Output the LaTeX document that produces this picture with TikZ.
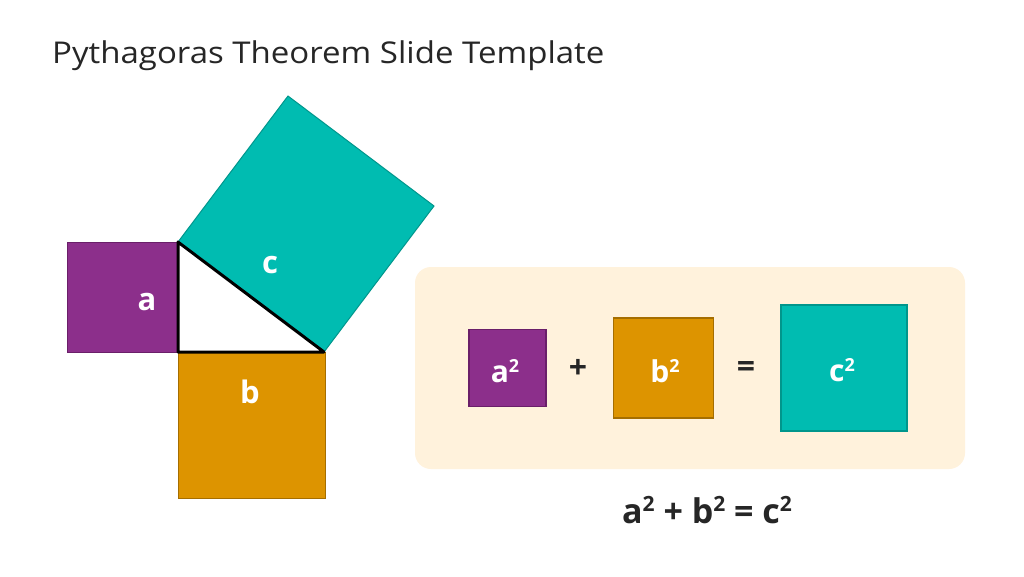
\documentclass[tikz,border=0pt]{standalone}
\usepackage{fontspec}
\setmainfont{Open Sans}
\definecolor{purp}{HTML}{8C2F8B}
\definecolor{purpd}{HTML}{6A1F69}
\definecolor{orng}{HTML}{DD9400}
\definecolor{orngd}{HTML}{A56E00}
\definecolor{teal2}{HTML}{00BCB1}
\definecolor{teald}{HTML}{00968C}
\definecolor{cream}{HTML}{FFF2DC}
\definecolor{titlec}{HTML}{262626}
\newcommand{\sqr}{\raisebox{0.6ex}{\fontsize{18}{18}\selectfont\bfseries 2}}
\newcommand{\sqrb}{\raisebox{0.6ex}{\fontsize{21}{21}\selectfont\bfseries 2}}
\begin{document}
\begin{tikzpicture}[x=1pt,y=-1pt,
  sq/.style={draw,line width=1.2pt,inner sep=0pt},
  sqtxt/.style={anchor=base,inner sep=0pt,text=white,font=\fontsize{30}{32}\selectfont\bfseries},
  lbl/.style={anchor=base,text=white,font=\fontsize{31}{34}\selectfont\bfseries,inner sep=0pt},
  op/.style={text=titlec,font=\fontsize{32}{36}\selectfont\bfseries,inner sep=0pt}]
\useasboundingbox (0,0) rectangle (1024,576);
\fill[white] (0,0) rectangle (1024,576);
% title
\node[anchor=base west,inner sep=0pt,text=titlec,font=\fontsize{30}{36}\selectfont] (title) at (52,63) {\scalebox{1.1}[1]{Pythagoras Theorem Slide Template}};
% triangle vertices
\coordinate (A) at (178,242);
\coordinate (B) at (178,352);
\coordinate (C) at (324,352);
\coordinate (D) at (288,96);
\coordinate (E) at (434,206);
% squares
\filldraw[fill=purp,draw=purpd,line width=1pt] (67,242) rectangle (B);
\filldraw[fill=orng,draw=orngd,line width=1pt] (B) rectangle (325,498);
\filldraw[fill=teal2,draw=teald,line width=1pt] (A) -- (C) -- (E) -- (D) -- cycle;
% triangle
\filldraw[fill=white,draw=black,line width=3pt,line join=round] (A) -- (B) -- (C) -- cycle;
% labels
\node[lbl] (la) at (147,310) {a};
\node[lbl] (lb) at (250,403) {b};
\node[lbl] (lc) at (270,273) {c};
% legend panel
\node[fill=cream,rounded corners=16pt,minimum width=550pt,minimum height=202pt,inner sep=0pt] (panel) at (690,368) {};
\node[sq,fill=purp,draw=purpd,minimum size=77pt] (sa) at (507.5,368) {};
\node[sqtxt] (ta) at (505,382) {a\sqr};
\node[op] (plus) at (578,369) {+};
\node[sq,fill=orng,draw=orngd,minimum size=100pt] (sb) at (663.5,368) {};
\node[sqtxt] (tb) at (665,382) {b\sqr};
\node[op] (eq) at (746,369) {=};
\node[sq,fill=teal2,draw=teald,minimum size=126pt] (sc) at (844,368) {};
\node[sqtxt] (tc) at (842,381) {c\sqr};
% bottom equation
\node[anchor=base,inner sep=0pt,text=titlec,font=\fontsize{34}{38}\selectfont\bfseries] (formula) at (707,523) {a\sqrb{} + b\sqrb{} = c\sqrb};
\end{tikzpicture}
\end{document}
